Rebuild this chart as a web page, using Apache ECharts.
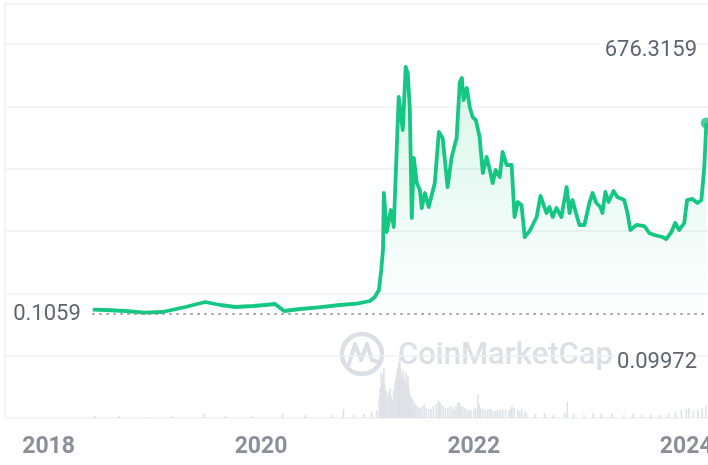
<!DOCTYPE html>
<html><head><meta charset="utf-8">
<script src="https://cdn.jsdelivr.net/npm/echarts@6/dist/echarts.min.js"></script>
<style>html,body{margin:0;padding:0;background:#fff;}#c{width:708px;height:465px;}</style>
</head><body><div id="c"></div>
<script>
const priceDates = [
'2018-06-02','2018-07-15','2018-09-22','2018-11-26','2019-01-27','2019-04-16','2019-06-23','2019-08-14','2019-10-04','2019-12-05',
'2020-01-15','2020-02-18','2020-03-20','2020-05-14','2020-07-08','2020-09-28','2020-11-26','2021-01-09','2021-01-26','2021-02-09',
'2021-02-17','2021-02-23','2021-02-26','2021-03-08','2021-03-22','2021-04-01','2021-04-18','2021-05-02','2021-05-12','2021-05-19',
'2021-05-26','2021-06-02','2021-06-09','2021-06-19','2021-06-30','2021-07-06','2021-07-17','2021-07-30','2021-08-20','2021-09-03',
'2021-09-16','2021-09-23','2021-10-03','2021-10-17','2021-11-03','2021-11-14','2021-11-21','2021-11-27','2021-12-08','2021-12-18',
'2021-12-28','2022-01-08','2022-01-21','2022-02-01','2022-02-14','2022-02-25','2022-03-07','2022-03-17','2022-03-31','2022-04-10',
'2022-04-24','2022-05-11','2022-05-21','2022-06-01','2022-06-14','2022-06-25','2022-07-12','2022-08-05','2022-08-18','2022-09-08',
'2022-09-18','2022-09-29','2022-10-12','2022-10-29','2022-11-16','2022-11-26','2022-12-06','2022-12-20','2022-12-30','2023-01-16',
'2023-02-02','2023-02-13','2023-02-26','2023-03-12','2023-03-19','2023-03-29','2023-04-09','2023-04-26','2023-05-09','2023-06-02',
'2023-06-13','2023-06-23','2023-07-14','2023-08-10','2023-08-27','2023-09-13','2023-10-11','2023-10-24','2023-11-11','2023-11-24',
'2023-12-08','2023-12-25','2024-01-04','2024-01-22','2024-02-08','2024-02-22','2024-03-03','2024-03-10'
];
const priceValues = [
12.15, 11.06, 8.32, 3.67, 5.58, 19.27, 32.96, 24.74, 19.27, 22.0,
24.74, 27.48, 8.32, 13.79, 17.63, 24.74, 28.58, 35.70, 46.65, 65.81,
120.6, 175.3, 331.4, 224.6, 284.8, 238.3, 594.2, 503.8, 676.3159, 659.9,
566.8, 262.9, 427.2, 358.8, 339.6, 290.3, 331.4, 293.0, 358.8, 498.4,
482.0, 427.2, 347.8, 429.9, 482.0, 635.2, 646.2, 586.0, 618.8, 566.8,
539.4, 531.2, 484.7, 386.1, 429.9, 394.3, 358.8, 394.3, 375.2, 443.6,
408.0, 408.0, 265.7, 306.7, 298.5, 210.9, 227.3, 265.7, 323.2, 276.6,
293.0, 265.7, 290.3, 265.7, 347.8, 276.6, 312.2, 271.2, 243.8, 243.8,
304.0, 331.4, 304.0, 293.0, 276.6, 334.1, 306.7, 336.9, 320.4, 312.2,
276.6, 230.1, 243.8, 241.0, 221.9, 216.4, 210.9, 205.4, 224.6, 249.2,
230.1, 249.2, 312.2, 315.0, 304.0, 312.2, 402.6, 523.0
];
const volumeDates = [
'2018-06-10','2018-09-01','2018-12-01','2019-03-01','2019-06-20','2019-09-01','2019-12-01','2020-03-15','2020-06-01','2020-09-01',
'2020-10-10','2020-11-15','2020-12-20','2021-01-15','2021-02-01','2021-02-10','2021-02-17','2021-02-22','2021-02-26','2021-03-05',
'2021-03-12','2021-03-20','2021-03-28','2021-04-05','2021-04-12','2021-04-18','2021-04-22','2021-04-28','2021-05-04','2021-05-10',
'2021-05-16','2021-05-20','2021-05-26','2021-06-02','2021-06-10','2021-06-20','2021-07-01','2021-07-15','2021-07-30','2021-08-15',
'2021-09-01','2021-09-10','2021-09-25','2021-10-10','2021-10-25','2021-11-08','2021-11-18','2021-12-01','2021-12-15','2022-01-01',
'2022-01-15','2022-01-25','2022-02-10','2022-02-25','2022-03-10','2022-03-25','2022-04-10','2022-05-01','2022-05-12','2022-06-01',
'2022-06-15','2022-07-01','2022-08-01','2022-09-01','2022-10-01','2022-11-10','2022-11-18','2022-12-10','2023-01-15','2023-02-15',
'2023-03-15','2023-04-20','2023-06-01','2023-07-01','2023-08-01','2023-09-01','2023-10-01','2023-11-01','2023-11-25','2023-12-15',
'2024-01-01','2024-01-10','2024-01-25','2024-02-10','2024-02-25','2024-03-08',
'2021-02-13','2021-02-19','2021-02-24','2021-03-01','2021-03-08','2021-03-16','2021-03-24','2021-04-01','2021-04-08','2021-04-15',
'2021-04-20','2021-04-25','2021-05-01','2021-05-07','2021-05-13','2021-05-18','2021-05-23','2021-05-29','2021-06-06','2021-06-15',
'2021-06-25','2021-07-08','2021-07-22','2021-08-07','2021-08-25','2021-09-05','2021-09-18','2021-10-03','2021-10-18','2021-11-01',
'2021-11-13','2021-11-25','2021-12-08','2021-12-22','2022-01-08','2022-01-20','2022-02-02','2022-02-18','2022-03-03','2022-03-18',
'2022-04-02','2022-04-20','2022-05-07','2022-05-20','2022-06-08','2022-06-25'
];
const volumeValues = [
2, 2, 1, 2, 4, 2, 2, 4, 3, 3,
9, 3, 4, 6, 8, 20, 45, 38, 50, 28,
22, 30, 18, 35, 45, 56, 61, 40, 48, 35,
30, 42, 25, 20, 15, 12, 10, 14, 9, 12,
18, 14, 10, 12, 9, 16, 12, 10, 8, 9,
24, 10, 8, 9, 7, 8, 9, 7, 12, 8,
9, 5, 4, 5, 3, 5, 16, 4, 3, 5,
4, 5, 3, 4, 3, 4, 3, 5, 6, 8,
9, 10, 7, 8, 10, 12,
30, 40, 44, 35, 25, 26, 22, 28, 40, 50,
52, 50, 44, 38, 45, 36, 30, 22, 18, 14,
11, 12, 10, 9, 14, 16, 12, 10, 11, 12,
15, 11, 9, 8, 10, 14, 9, 8, 8, 7,
8, 8, 9, 10, 7, 6
];
const yearTicks = ['2018', '2020', '2022', '2024'];
const openPrice = 0.1059;
const openLabel = '0.1059';
const highLabel = '676.3159';
const lowLabel = '0.09972';
const watermark = 'CoinMarketCap';

const P = echarts.time.parse;
const chart = echarts.init(document.getElementById('c'));
const priceData = priceDates.map((d, i) => [P(d), priceValues[i]]);
const volData = volumeDates.map((d, i) => [P(d), volumeValues[i]]);
const lastPoint = priceData[priceData.length - 1];
const xMin = P('2017-08-07'), xMax = P('2024-03-13');
const green = '#16c784';
const gridColor = '#eef0f3';

chart.setOption({
  animation: false,
  grid: { left: 5, right: 0, top: 4, bottom: 47, outerBoundsMode: 'none' },
  xAxis: {
    type: 'time', min: xMin, max: xMax, splitNumber: 7,
    axisLine: { show: false }, axisTick: { show: false }, splitLine: { show: false },
    axisLabel: {
      formatter: function (v) {
        const d = new Date(v);
        const y = String(d.getFullYear());
        return (d.getMonth() === 0 && d.getDate() === 1 && yearTicks.indexOf(y) >= 0) ? y : '';
      },
      fontFamily: 'Roboto', fontSize: 23, fontWeight: 'bold', color: '#8a8f98',
      margin: 18, hideOverlap: false, showMinLabel: false, showMaxLabel: false
    }
  },
  yAxis: [
    { type: 'value', min: 0, max: 6.642, interval: 1,
      axisLabel: { show: false }, axisTick: { show: false },
      axisLine: { show: true, lineStyle: { color: gridColor, width: 1.5 } },
      splitLine: { show: true, lineStyle: { color: gridColor, width: 1.5 } } },
    { type: 'value', min: -284.6, max: 848.8, show: false, splitLine: { show: false } },
    { type: 'value', min: 0, max: 414, show: false, splitLine: { show: false } }
  ],
  graphic: [
    { type: 'group', z: 0, silent: true, children: [
      { type: 'circle', shape: { cx: 362, cy: 354, r: 20 }, style: { fill: 'none', stroke: '#dcdfe4', lineWidth: 4.5 } },
      { type: 'polyline', shape: { points: [[349, 364], [355, 344], [361, 360], [367, 344], [372, 360], [378, 362]] },
        style: { fill: 'none', stroke: '#dcdfe4', lineWidth: 4, lineJoin: 'round', lineCap: 'round' } },
      { type: 'text', x: 398, y: 356, style: { text: watermark, fill: '#dcdfe4', font: '500 31px Roboto', verticalAlign: 'middle', align: 'left' } }
    ] },
    { type: 'text', z: 100, x: 697, y: 50, style: { text: highLabel, fill: '#5f6570', font: '22px Roboto', align: 'right', verticalAlign: 'middle', backgroundColor: '#fff', padding: [3, 0, 3, 4] } },
    { type: 'text', z: 100, x: 697, y: 362, style: { text: lowLabel, fill: '#5f6570', font: '22px Roboto', align: 'right', verticalAlign: 'middle', backgroundColor: '#fff', padding: [3, 0, 3, 2] } }
  ],
  series: [
    { type: 'bar', yAxisIndex: 2, data: volData, barWidth: 1.6, silent: true,
      itemStyle: { color: '#dfe2e7' }, z: 1 },
    { type: 'line', yAxisIndex: 1, data: priceData, showSymbol: false, smooth: false, z: 3,
      lineStyle: { color: green, width: 3.8, join: 'round' },
      areaStyle: { origin: openPrice, color: new echarts.graphic.LinearGradient(0, 0, 0, 1, [
        { offset: 0, color: 'rgba(22,199,132,0.24)' }, { offset: 1, color: 'rgba(22,199,132,0.01)' }]) },
      markLine: { symbol: 'none', silent: true, animation: false,
        lineStyle: { type: [1.5, 5.5], color: '#8c8f96', width: 1.6, cap: 'round' },
        label: { position: 'start', formatter: openLabel, fontFamily: 'Roboto', fontSize: 22, color: '#5f6570', distance: 12 },
        data: [[{ coord: [P(priceDates[0]), openPrice] }, { coord: [xMax, openPrice] }]] }
    },
    { type: 'scatter', yAxisIndex: 1, data: [lastPoint], symbolSize: 11, itemStyle: { color: green }, z: 5, silent: true }
  ]
});
</script></body></html>
